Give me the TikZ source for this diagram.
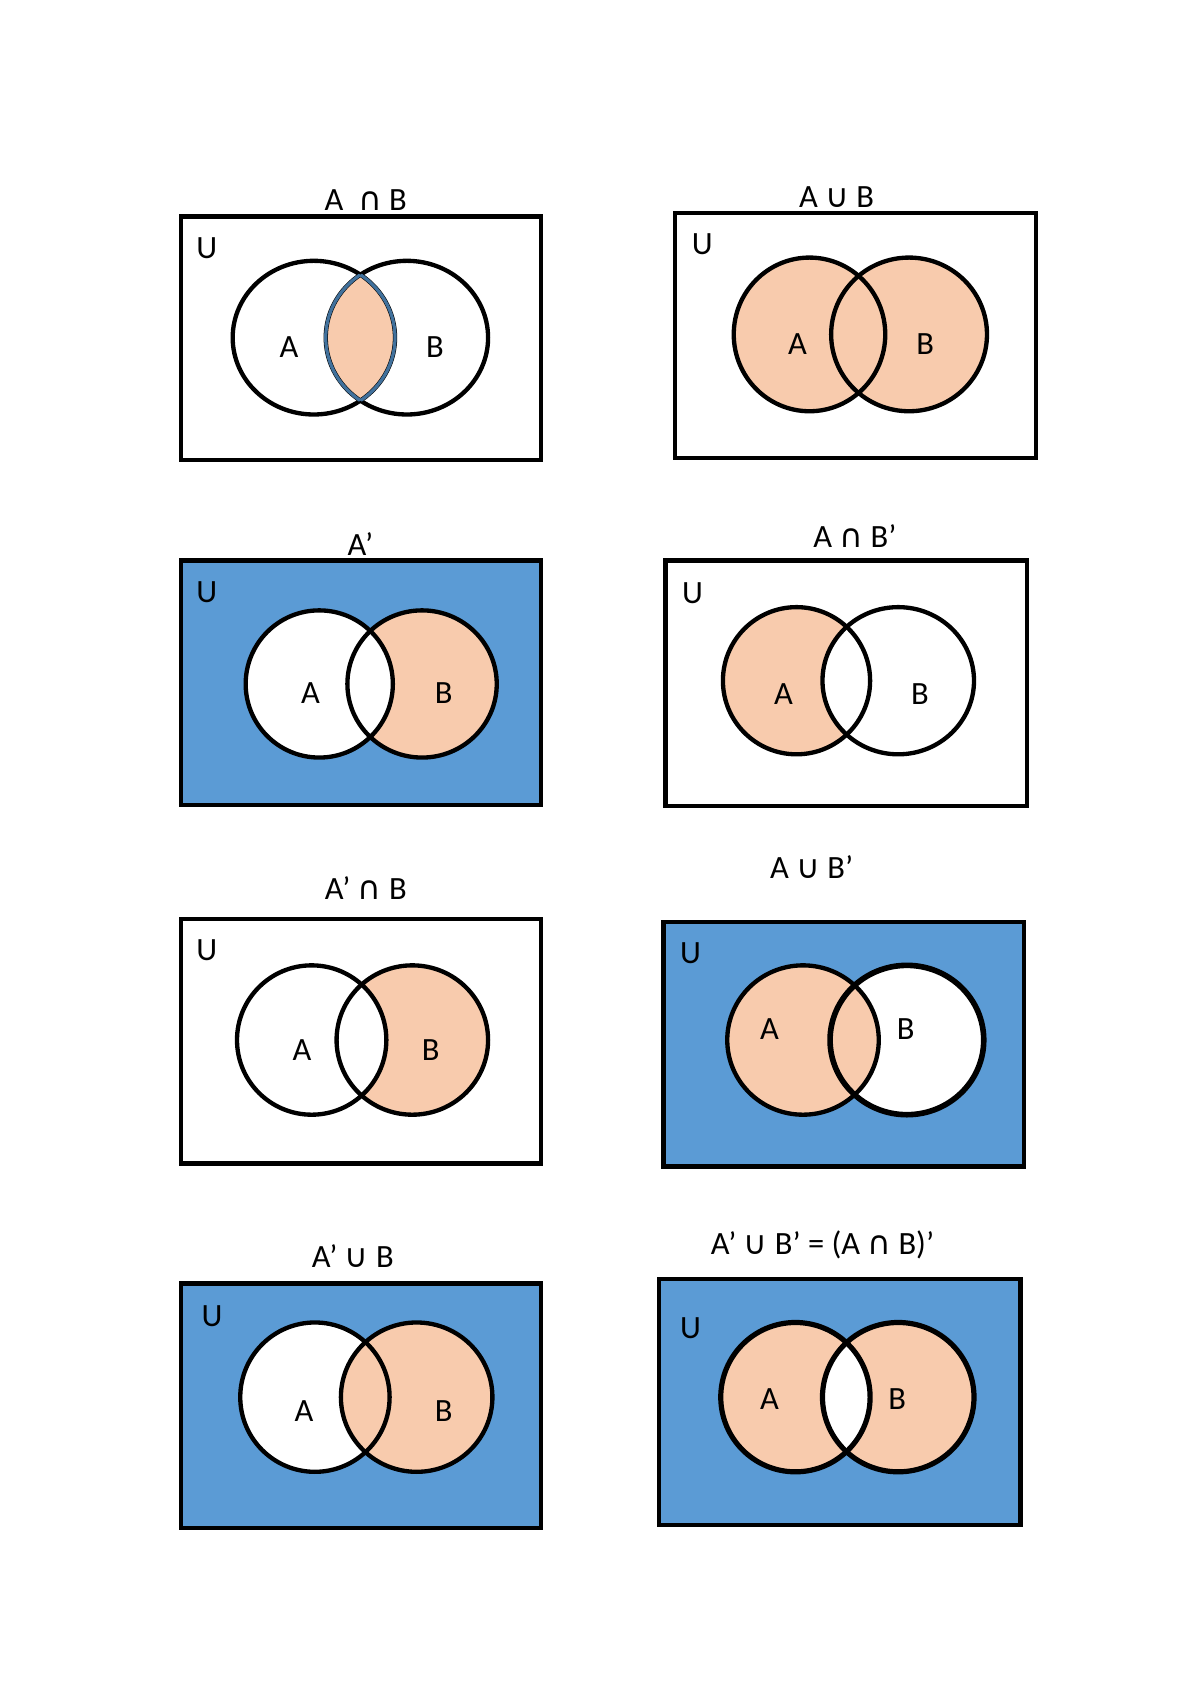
\documentclass[tikz,border=0pt]{standalone}
\usepackage{fontspec}
\setmainfont{Carlito}
\newfontfamily\symf{DejaVu Sans}
\definecolor{peach}{HTML}{F8CBAD}
\definecolor{ublue}{HTML}{5B9BD5}
\definecolor{edgeb}{HTML}{41719C}
\newcommand{\mycap}{{\symf ∩}}
\newcommand{\mycup}{{\symf ∪}}
\begin{document}
\begin{tikzpicture}[x=0.5pt,y=-0.5pt,
  box/.style={line width=2pt,draw=black},
  circ/.style={line width=2pt,draw=black},
  lbl/.style={font=\fontsize{15}{18}\selectfont,inner sep=0pt},
  ttl/.style={font=\fontsize{15}{18}\selectfont,inner sep=0pt}]
\useasboundingbox[fill=white] (0,0) rectangle (1109,1569);
% Panel 1
\draw[box] (167,200) rectangle (500,425);
\begin{scope}
\clip (290,312) ellipse (75 and 71);
\fill[peach] (376,312) ellipse (75 and 71);
\end{scope}
\draw[circ] (290,312) ellipse (75 and 71);
\draw[circ] (376,312) ellipse (75 and 71);
\begin{scope}
\clip (290,312) ellipse (75 and 71);
\draw[edgeb,line width=1.5pt] (376,312) ellipse (75 and 71);
\end{scope}
\begin{scope}
\clip (376,312) ellipse (75 and 71);
\draw[edgeb,line width=1.5pt] (290,312) ellipse (75 and 71);
\end{scope}
\node[ttl] (t1) at (338,185) {A \ \mycap\ B};
\node[lbl] (u1) at (191,229) {U};
\node[lbl] (a1) at (267,321) {A};
\node[lbl] (b1) at (402,321) {B};
% Panel 2
\draw[box] (624,197) rectangle (957,423);
\fill[peach] (748,309) ellipse (70 and 71);
\fill[peach] (840,309) ellipse (72 and 71);
\draw[circ] (748,309) ellipse (70 and 71);
\draw[circ] (840,309) ellipse (72 and 71);
\node[ttl] (t2) at (773,182) {A \mycup\ B};
\node[lbl] (u2) at (649,226) {U};
\node[lbl] (a2) at (737,318) {A};
\node[lbl] (b2) at (855,318) {B};
% Panel 3
\draw[box,fill=ublue] (167,518) rectangle (500,744);
\fill[peach] (390,632) ellipse (69 and 68);
\fill[white] (295,632) ellipse (68 and 68);
\draw[circ] (295,632) ellipse (68 and 68);
\draw[circ] (390,632) ellipse (69 and 68);
\node[ttl] (t3) at (333,503) {A’};
\node[lbl] (u3) at (191,547) {U};
\node[lbl] (a3) at (287,640) {A};
\node[lbl] (b3) at (410,640) {B};
% Panel 4
\draw[box] (615,518) rectangle (949,745);
\fill[peach] (736,629) ellipse (68 and 68);
\fill[white] (830,629) ellipse (70 and 68);
\draw[circ] (736,629) ellipse (68 and 68);
\draw[circ] (830,629) ellipse (70 and 68);
\node[ttl] (t4) at (790,495) {A \mycap\ B’};
\node[lbl] (u4) at (640,548) {U};
\node[lbl] (a4) at (724,641) {A};
\node[lbl] (b4) at (850,641) {B};
% Panel 5
\draw[box] (167,849) rectangle (500,1075);
\fill[peach] (381,961) ellipse (70 and 69);
\fill[white] (288,961) ellipse (69 and 69);
\draw[circ] (288,961) ellipse (69 and 69);
\draw[circ] (381,961) ellipse (70 and 69);
\node[ttl] (t5) at (338,821) {A’ \mycap\ B};
\node[lbl] (u5) at (191,878) {U};
\node[lbl] (a5) at (279,970) {A};
\node[lbl] (b5) at (398,970) {B};
% Panel 6
\draw[box,fill=ublue] (613,852) rectangle (946,1078);
\fill[white] (838,961) ellipse (71 and 69);
\fill[peach] (742,961) ellipse (70 and 69);
\draw[circ] (742,961) ellipse (70 and 69);
\draw[circ,line width=2.6pt] (838,961) ellipse (71 and 69);
\node[ttl] (t6) at (750,801) {A \mycup\ B’};
\node[lbl] (u6) at (638,881) {U};
\node[lbl] (a6) at (711,951) {A};
\node[lbl] (b6) at (837,951) {B};
% Panel 7
\draw[box,fill=ublue] (167,1186) rectangle (500,1412);
\fill[white] (291,1291) ellipse (69 and 69);
\fill[peach] (385,1291) ellipse (70 and 69);
\draw[circ] (291,1291) ellipse (69 and 69);
\draw[circ] (385,1291) ellipse (70 and 69);
\node[ttl] (t7) at (326,1161) {A’ \mycup\ B};
\node[lbl] (u7) at (196,1216) {U};
\node[lbl] (a7) at (281,1304) {A};
\node[lbl] (b7) at (410,1304) {B};
% Panel 8
\draw[box,fill=ublue] (609,1182) rectangle (943,1409);
\fill[peach] (735,1291) ellipse (69 and 69);
\fill[peach] (830,1291) ellipse (70 and 69);
\begin{scope}
\clip (735,1291) ellipse (69 and 69);
\fill[white] (830,1291) ellipse (70 and 69);
\end{scope}
\draw[circ,line width=2.4pt] (735,1291) ellipse (69 and 69);
\draw[circ,line width=2.4pt] (830,1291) ellipse (70 and 69);
\node[ttl] (t8) at (760,1150) {A’ \mycup\ B’ = (A \mycap\ B)’};
\node[lbl] (u8) at (638,1227) {U};
\node[lbl] (a8) at (711,1293) {A};
\node[lbl] (b8) at (829,1293) {B};
\end{tikzpicture}
\end{document}
